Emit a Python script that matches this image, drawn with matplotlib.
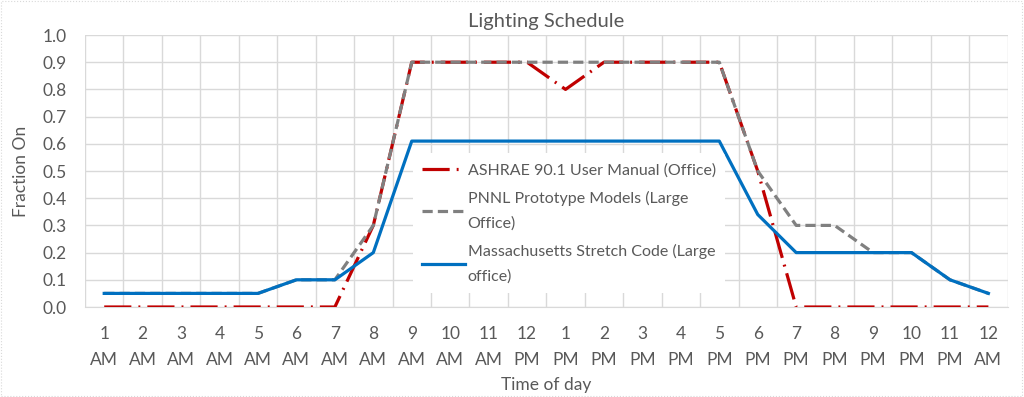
import matplotlib
matplotlib.use("Agg")
import matplotlib.pyplot as plt
from matplotlib.patches import Rectangle
import numpy as np

hours = ["1\nAM", "2\nAM", "3\nAM", "4\nAM", "5\nAM", "6\nAM", "7\nAM", "8\nAM",
         "9\nAM", "10\nAM", "11\nAM", "12\nPM", "1\nPM", "2\nPM", "3\nPM", "4\nPM",
         "5\nPM", "6\nPM", "7\nPM", "8\nPM", "9\nPM", "10\nPM", "11\nPM", "12\nAM"]

ashrae = [0, 0, 0, 0, 0, 0, 0, 0.3, 0.9, 0.9, 0.9, 0.9, 0.8, 0.9, 0.9, 0.9,
          0.9, 0.5, 0, 0, 0, 0, 0, 0]
pnnl = [0.05, 0.05, 0.05, 0.05, 0.05, 0.1, 0.1, 0.3, 0.9, 0.9, 0.9, 0.9, 0.9, 0.9,
        0.9, 0.9, 0.9, 0.5, 0.3, 0.3, 0.2, 0.2, 0.1, 0.05]
mass = [0.05, 0.05, 0.05, 0.05, 0.05, 0.1, 0.1, 0.2, 0.61, 0.61, 0.61, 0.61, 0.61,
        0.61, 0.61, 0.61, 0.61, 0.34, 0.2, 0.2, 0.2, 0.2, 0.1, 0.05]

labels = ["ASHRAE 90.1 User Manual (Office)",
          "PNNL Prototype Models (Large\nOffice)",
          "Massachusetts Stretch Code (Large\noffice)"]

plt.rcParams['font.family'] = ['Lato', 'DejaVu Sans']
text_color = "#595959"
grid_color = "#D9D9D9"

fig = plt.figure(figsize=(10.24, 3.97), dpi=100)
ax = fig.add_axes([0.083, 0.2267, 0.901, 0.6851])

x = np.arange(len(hours))
lw = 2.3
ax.plot(x, ashrae, color="#C00000", lw=lw, linestyle=(0, (8.5, 2.2, 0.6, 2.2)),
        label=labels[0], zorder=3, dash_capstyle='butt')
ax.plot(x, pnnl, color="#808080", lw=lw, linestyle=(0, (3.2, 1.6)),
        label=labels[1], zorder=4, dash_capstyle='butt')
ax.plot(x, mass, color="#0070C0", lw=lw, linestyle='-', label=labels[2], zorder=5)

ax.set_xlim(-0.5, len(hours) - 0.5)
ax.set_ylim(0, 1.0)
ax.set_yticks(np.arange(0, 1.01, 0.1))
ax.set_yticklabels([f"{v:.1f}" for v in np.arange(0, 1.01, 0.1)])
ax.set_xticks(x)
ax.set_xticklabels(hours, linespacing=1.75)
ax.set_xticks(np.arange(-0.5, len(hours), 1), minor=True)
ax.tick_params(axis='both', which='both', length=0, labelsize=12.5, colors=text_color)
ax.tick_params(axis='x', pad=14)
ax.tick_params(axis='y', pad=13)
ax.grid(True, axis='y', which='major', color=grid_color, lw=1)
ax.grid(True, axis='x', which='minor', color=grid_color, lw=1)
ax.grid(False, axis='x', which='major')
for s in ['top', 'right', 'left']:
    ax.spines[s].set_visible(False)
ax.spines['bottom'].set_color(grid_color)
ax.set_axisbelow(True)

ax.set_title("Lighting Schedule", fontsize=14.5, color=text_color, pad=6)
ax.set_xlabel("Time of day", fontsize=12.5, color=text_color, labelpad=6)
ax.set_ylabel("Fraction On", fontsize=12.5, color=text_color, labelpad=10)

leg = ax.legend(loc='upper left', bbox_to_anchor=(0.355, 0.565), frameon=True,
                fontsize=11.5, handlelength=2.7, handletextpad=0.15,
                labelspacing=0.85, borderpad=0.6, borderaxespad=0,
                labelcolor=text_color)
for t in leg.get_texts():
    t.set_linespacing(1.9)
leg.get_frame().set_facecolor('white')
leg.get_frame().set_edgecolor('none')
leg.get_frame().set_alpha(1)
leg.set_zorder(10)

fig.patches.append(Rectangle((0.001, 0.002), 0.997, 0.995, transform=fig.transFigure,
                             fill=False, edgecolor="#D9D9D9", lw=0.8, linestyle=':'))

fig.savefig("out.png", dpi=100)
